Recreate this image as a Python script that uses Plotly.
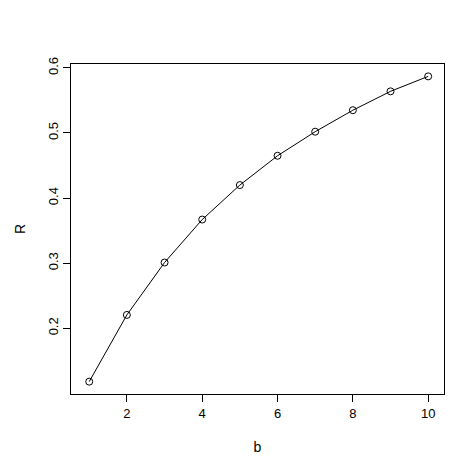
import plotly.graph_objects as go

b = [1, 2, 3, 4, 5, 6, 7, 8, 9, 10]
R = [0.118, 0.2205, 0.301, 0.367, 0.420, 0.465, 0.502, 0.535, 0.564, 0.587]

fig = go.Figure(go.Scatter(x=b, y=R, mode="lines+markers",
    line=dict(color="black", width=1),
    marker=dict(symbol="circle-open", size=7, color="black", line=dict(width=1))))

ax = dict(showgrid=False, zeroline=False, showline=True, linecolor="black", linewidth=1,
          mirror=True, ticks="outside", ticklen=7, tickcolor="black",
          tickfont=dict(family="Liberation Sans, Arial", size=13, color="black"))
fig.update_layout(
    width=474, height=473, margin=dict(l=56, r=38, t=56, b=87),
    plot_bgcolor="white", paper_bgcolor="white", showlegend=False,
    xaxis=dict(ax, range=[0.516, 10.42], tickvals=[2, 4, 6, 8, 10],
               title=dict(text="b", font=dict(family="Liberation Sans, Arial", size=14, color="black"), standoff=22)),
    yaxis=dict(ax, range=[0.099, 0.606], tickvals=[0.2, 0.3, 0.4, 0.5, 0.6], tickangle=-90,
               tickformat=".1f",
               title=dict(text="R", font=dict(family="Liberation Sans, Arial", size=14, color="black"), standoff=16)),
)
fig.write_html("out.html")
